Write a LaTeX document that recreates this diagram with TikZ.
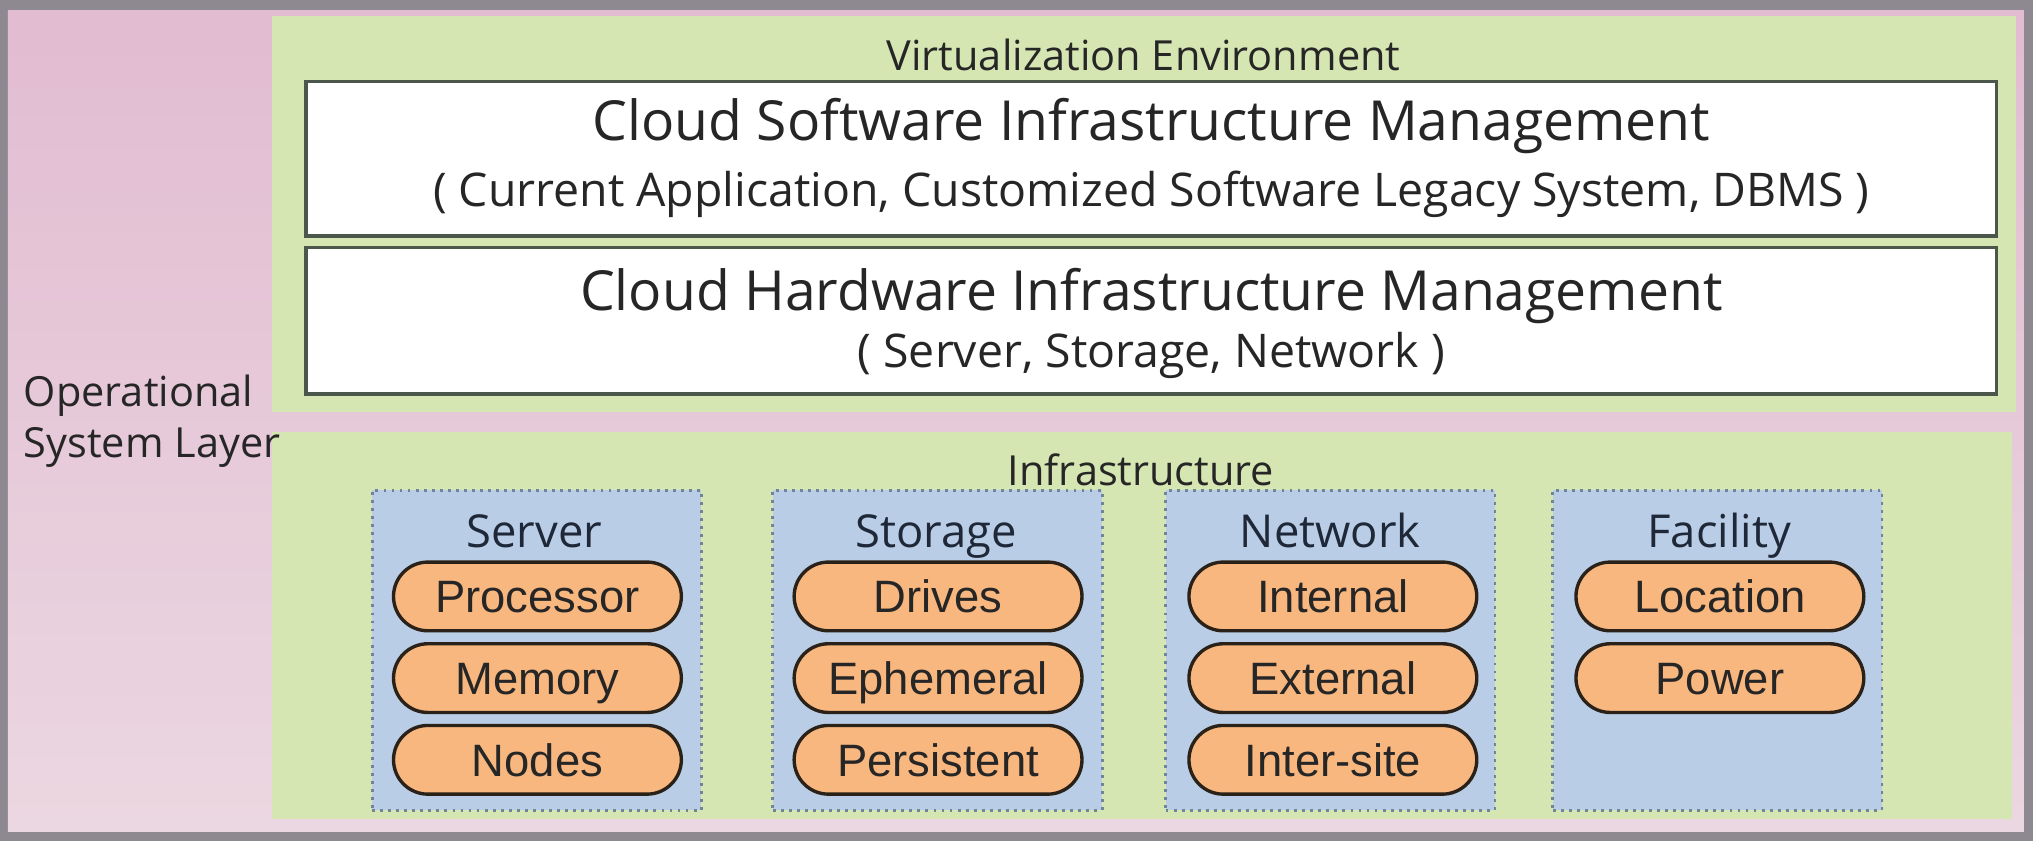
\documentclass[tikz,border=0pt]{standalone}
\usepackage{fontspec}
\setmainfont{Open Sans}
\newfontfamily\pillfont{Liberation Sans}
\usetikzlibrary{shapes.misc}

\definecolor{framegray}{HTML}{8E8990}
\definecolor{pinktop}{HTML}{E2BCD1}
\definecolor{pinkbot}{HTML}{EBD7E1}
\definecolor{layergreen}{HTML}{D6E6B2}
\definecolor{boxedge}{HTML}{4B574B}
\definecolor{groupblue}{HTML}{B9CEE6}
\definecolor{dotgray}{HTML}{6F8599}
\definecolor{pillorange}{HTML}{F8B77F}
\definecolor{pilledge}{HTML}{2A2118}
\definecolor{titleblue}{HTML}{1E2838}

\tikzset{
  layerbox/.style={fill=layergreen,draw=none},
  mgmtbox/.style={draw=boxedge,line width=1.3pt,fill=white,minimum width=652pt,minimum height=#1,inner sep=0pt},
  bigtext/.style={font=\fontsize{21.3}{24}\selectfont,text=black!85},
  smalltext/.style={font=\fontsize{17.9}{20}\selectfont,text=black!85},
  captext/.style={font=\fontsize{16}{19.5}\selectfont,text=black!85},
  groupbox/.style={fill=groupblue,draw=dotgray,dotted,line width=1.1pt,minimum width=127pt,minimum height=123.5pt,inner sep=0pt},
  grouptitle/.style={font=\fontsize{17.5}{20}\selectfont,text=titleblue,anchor=base},
  pill/.style={rounded rectangle,draw=pilledge,line width=1.3pt,fill=pillorange,minimum width=111pt,minimum height=26.5pt,inner sep=0pt,text height=12.5pt,text depth=0pt,font=\pillfont\fontsize{17.5}{19}\selectfont,text=black!85}
}

\begin{document}
\begin{tikzpicture}[x=0.5pt,y=-0.5pt]
\useasboundingbox (0,0) rectangle (1568,649);
%\draw[step=100,gray,very thin] (0,0) grid (1568,649);
\fill[framegray] (0,0) rectangle (1568,649);
\shade[top color=pinktop,bottom color=pinkbot] (6,8) rectangle (1561,641);
\fill[layerbox] (210,12) rectangle (1555,318);
\fill[layerbox] (210,333) rectangle (1552,632);

\node[captext,align=left,anchor=west,inner sep=0pt] (osl) at (18,325) {Operational\\System Layer};
\node[captext] (venv) at (882,42) {Virtualization Environment};
\node[captext] (infra) at (880,362) {Infrastructure};

\node[mgmtbox=59.5pt] (swm) at (888,122.5) {};
\node[bigtext] (swmt) at (888,97) {Cloud Software Infrastructure Management};
\node[smalltext] (swms) at (888,150) {( Current Application, Customized Software Legacy System, DBMS )};
\node[mgmtbox=56.5pt] (hwm) at (888,247.5) {};
\node[bigtext] (hwmt) at (888,228) {Cloud Hardware Infrastructure Management};
\node[smalltext] (hwms) at (888,274) {( Server, Storage, Network )};

\node[groupbox] (server) at (414,501.5) {};
\node[groupbox] (storage) at (723,501.5) {};
\node[groupbox] (network) at (1026,501.5) {};
\node[groupbox] (facility) at (1324.5,501.5) {};
\node[grouptitle] (servert) at (412,422) {Server};
\node[grouptitle] (storaget) at (722,422) {Storage};
\node[grouptitle] (networkt) at (1026,422) {Network};
\node[grouptitle] (facilityt) at (1326,422) {Facility};

\node[pill] (proc) at (414.5,460) {Processor};
\node[pill] (mem) at (414.5,523) {Memory};
\node[pill] (nodes) at (414.5,586) {Nodes};
\node[pill] (drv) at (723.5,460) {Drives};
\node[pill] (eph) at (723.5,523) {Ephemeral};
\node[pill] (pers) at (723.5,586) {Persistent};
\node[pill] (int) at (1028,460) {Internal};
\node[pill] (ext) at (1028,523) {External};
\node[pill] (isite) at (1028,586) {Inter-site};
\node[pill] (loc) at (1326.5,460) {Location};
\node[pill] (pow) at (1326.5,523) {Power};
\end{tikzpicture}
\end{document}
